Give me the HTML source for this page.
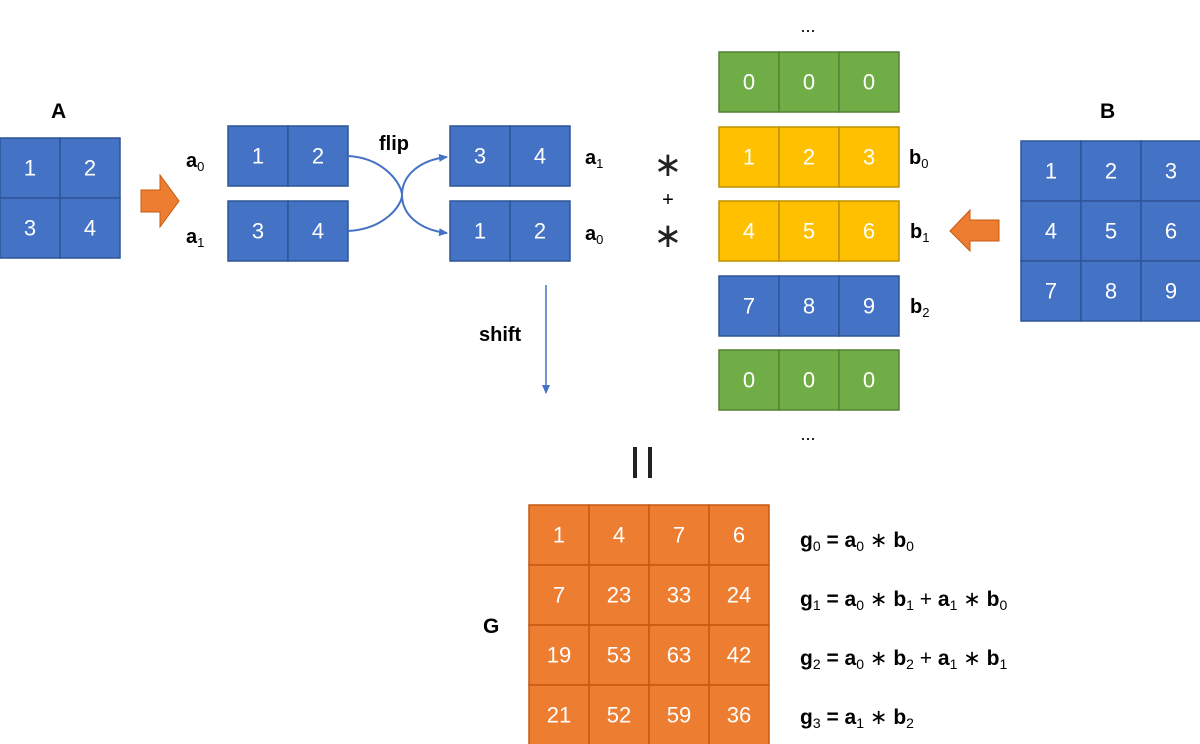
<!DOCTYPE html>
<html><head><meta charset="utf-8"><style>
html,body{margin:0;padding:0;background:#fff;width:1200px;height:744px;overflow:hidden}
svg text{font-family:"Liberation Sans","DejaVu Sans",sans-serif}
.c{fill:#fff;font-size:22px;text-anchor:middle;dominant-baseline:central}
.l{fill:#000;font-size:20px;font-weight:bold}
.s{font-size:13px;font-weight:normal}
.e{fill:#000;font-size:21px;font-weight:bold}
.e .s{font-size:14px}
</style></head><body>
<svg width="1200" height="744" viewBox="0 0 1200 744" xmlns="http://www.w3.org/2000/svg">
<defs>
<marker id="ah" markerWidth="10" markerHeight="10" refX="8" refY="5" orient="auto" markerUnits="userSpaceOnUse"><path d="M0,1 L9,5 L0,9 Z" fill="#4472c4"/></marker>
</defs>
<g stroke-width="1.5">
<g fill="#4472c4" stroke="#2f5597">
<rect x="0" y="138" width="60" height="60"/><rect x="60" y="138" width="60" height="60"/>
<rect x="0" y="198" width="60" height="60"/><rect x="60" y="198" width="60" height="60"/>
<rect x="228" y="126" width="60" height="60"/><rect x="288" y="126" width="60" height="60"/>
<rect x="228" y="201" width="60" height="60"/><rect x="288" y="201" width="60" height="60"/>
<rect x="450" y="126" width="60" height="60"/><rect x="510" y="126" width="60" height="60"/>
<rect x="450" y="201" width="60" height="60"/><rect x="510" y="201" width="60" height="60"/>
<rect x="719" y="276" width="60" height="60"/><rect x="779" y="276" width="60" height="60"/><rect x="839" y="276" width="60" height="60"/>
<rect x="1021" y="141" width="60" height="60"/><rect x="1081" y="141" width="60" height="60"/><rect x="1141" y="141" width="60" height="60"/>
<rect x="1021" y="201" width="60" height="60"/><rect x="1081" y="201" width="60" height="60"/><rect x="1141" y="201" width="60" height="60"/>
<rect x="1021" y="261" width="60" height="60"/><rect x="1081" y="261" width="60" height="60"/><rect x="1141" y="261" width="60" height="60"/>
</g>
<g fill="#70ad47" stroke="#548235">
<rect x="719" y="52" width="60" height="60"/><rect x="779" y="52" width="60" height="60"/><rect x="839" y="52" width="60" height="60"/>
<rect x="719" y="350" width="60" height="60"/><rect x="779" y="350" width="60" height="60"/><rect x="839" y="350" width="60" height="60"/>
</g>
<g fill="#ffc000" stroke="#bf9000">
<rect x="719" y="127" width="60" height="60"/><rect x="779" y="127" width="60" height="60"/><rect x="839" y="127" width="60" height="60"/>
<rect x="719" y="201" width="60" height="60"/><rect x="779" y="201" width="60" height="60"/><rect x="839" y="201" width="60" height="60"/>
</g>
<g fill="#ed7d31" stroke="#c55a11">
<rect x="529" y="505" width="60" height="60"/><rect x="589" y="505" width="60" height="60"/><rect x="649" y="505" width="60" height="60"/><rect x="709" y="505" width="60" height="60"/>
<rect x="529" y="565" width="60" height="60"/><rect x="589" y="565" width="60" height="60"/><rect x="649" y="565" width="60" height="60"/><rect x="709" y="565" width="60" height="60"/>
<rect x="529" y="625" width="60" height="60"/><rect x="589" y="625" width="60" height="60"/><rect x="649" y="625" width="60" height="60"/><rect x="709" y="625" width="60" height="60"/>
<rect x="529" y="685" width="60" height="60"/><rect x="589" y="685" width="60" height="60"/><rect x="649" y="685" width="60" height="60"/><rect x="709" y="685" width="60" height="60"/>
</g>
</g>
<path d="M141,190 L160,190 L160,175 L179,201 L160,227 L160,212 L141,212 Z" fill="#ed7d31" stroke="#c55a11"/>
<path d="M999,220 L970,220 L970,210 L950,231 L970,251 L970,241 L999,241 Z" fill="#ed7d31" stroke="#c55a11"/>
<g fill="none" stroke="#4472c4" stroke-width="2">
<path d="M348,156 C385,158 402,185 402,195 C402,215 420,230 447,233" marker-end="url(#ah)"/>
<path d="M348,231 C385,229 402,205 402,195 C402,175 420,160 447,157" marker-end="url(#ah)"/>
<path d="M546,285 L546,393" stroke-width="1.5" marker-end="url(#ah)"/>
</g>
<g>
<text x="30" y="168" class="c">1</text><text x="90" y="168" class="c">2</text>
<text x="30" y="228" class="c">3</text><text x="90" y="228" class="c">4</text>
<text x="258" y="156" class="c">1</text><text x="318" y="156" class="c">2</text>
<text x="258" y="231" class="c">3</text><text x="318" y="231" class="c">4</text>
<text x="480" y="156" class="c">3</text><text x="540" y="156" class="c">4</text>
<text x="480" y="231" class="c">1</text><text x="540" y="231" class="c">2</text>
<text x="749" y="82" class="c">0</text><text x="809" y="82" class="c">0</text><text x="869" y="82" class="c">0</text>
<text x="749" y="157" class="c">1</text><text x="809" y="157" class="c">2</text><text x="869" y="157" class="c">3</text>
<text x="749" y="231" class="c">4</text><text x="809" y="231" class="c">5</text><text x="869" y="231" class="c">6</text>
<text x="749" y="306" class="c">7</text><text x="809" y="306" class="c">8</text><text x="869" y="306" class="c">9</text>
<text x="749" y="380" class="c">0</text><text x="809" y="380" class="c">0</text><text x="869" y="380" class="c">0</text>
<text x="1051" y="171" class="c">1</text><text x="1111" y="171" class="c">2</text><text x="1171" y="171" class="c">3</text>
<text x="1051" y="231" class="c">4</text><text x="1111" y="231" class="c">5</text><text x="1171" y="231" class="c">6</text>
<text x="1051" y="291" class="c">7</text><text x="1111" y="291" class="c">8</text><text x="1171" y="291" class="c">9</text>
<text x="559" y="535" class="c">1</text><text x="619" y="535" class="c">4</text><text x="679" y="535" class="c">7</text><text x="739" y="535" class="c">6</text>
<text x="559" y="595" class="c">7</text><text x="619" y="595" class="c">23</text><text x="679" y="595" class="c">33</text><text x="739" y="595" class="c">24</text>
<text x="559" y="655" class="c">19</text><text x="619" y="655" class="c">53</text><text x="679" y="655" class="c">63</text><text x="739" y="655" class="c">42</text>
<text x="559" y="715" class="c">21</text><text x="619" y="715" class="c">52</text><text x="679" y="715" class="c">59</text><text x="739" y="715" class="c">36</text>
</g>
<g class="l">
<text x="51" y="118" style="font-size:21px">A</text>
<text x="1100" y="118" style="font-size:21px">B</text>
<text x="483" y="633" style="font-size:21px">G</text>
<text x="186" y="167">a<tspan class="s" dy="4">0</tspan></text>
<text x="186" y="243">a<tspan class="s" dy="4">1</tspan></text>
<text x="585" y="164">a<tspan class="s" dy="4">1</tspan></text>
<text x="585" y="240">a<tspan class="s" dy="4">0</tspan></text>
<text x="379" y="150">flip</text>
<text x="479" y="341">shift</text>
<text x="909" y="164">b<tspan class="s" dy="4">0</tspan></text>
<text x="910" y="238">b<tspan class="s" dy="4">1</tspan></text>
<text x="910" y="313">b<tspan class="s" dy="4">2</tspan></text>
</g>
<g font-size="34" fill="#222" text-anchor="middle">
<text x="668" y="176">∗</text><text x="668" y="247">∗</text>
</g>
<text x="668" y="206" font-size="20" text-anchor="middle">+</text>
<text x="808" y="32" font-size="18" text-anchor="middle">...</text>
<text x="808" y="440" font-size="18" text-anchor="middle">...</text>
<rect x="633" y="447" width="4" height="31" fill="#222"/><rect x="648" y="447" width="4" height="31" fill="#222"/>
<g class="e">
<text x="800" y="547">g<tspan class="s" dy="4">0</tspan><tspan dy="-4"> = a</tspan><tspan class="s" dy="4">0</tspan><tspan dy="-4" style="font-weight:normal"> ∗ </tspan>b<tspan class="s" dy="4">0</tspan></text>
<text x="800" y="606">g<tspan class="s" dy="4">1</tspan><tspan dy="-4"> = a</tspan><tspan class="s" dy="4">0</tspan><tspan dy="-4" style="font-weight:normal"> ∗ </tspan>b<tspan class="s" dy="4">1</tspan><tspan dy="-4" style="font-weight:normal"> + </tspan>a<tspan class="s" dy="4">1</tspan><tspan dy="-4" style="font-weight:normal"> ∗ </tspan>b<tspan class="s" dy="4">0</tspan></text>
<text x="800" y="665">g<tspan class="s" dy="4">2</tspan><tspan dy="-4"> = a</tspan><tspan class="s" dy="4">0</tspan><tspan dy="-4" style="font-weight:normal"> ∗ </tspan>b<tspan class="s" dy="4">2</tspan><tspan dy="-4" style="font-weight:normal"> + </tspan>a<tspan class="s" dy="4">1</tspan><tspan dy="-4" style="font-weight:normal"> ∗ </tspan>b<tspan class="s" dy="4">1</tspan></text>
<text x="800" y="724">g<tspan class="s" dy="4">3</tspan><tspan dy="-4"> = a</tspan><tspan class="s" dy="4">1</tspan><tspan dy="-4" style="font-weight:normal"> ∗ </tspan>b<tspan class="s" dy="4">2</tspan></text>
</g>
</svg>
</body></html>
